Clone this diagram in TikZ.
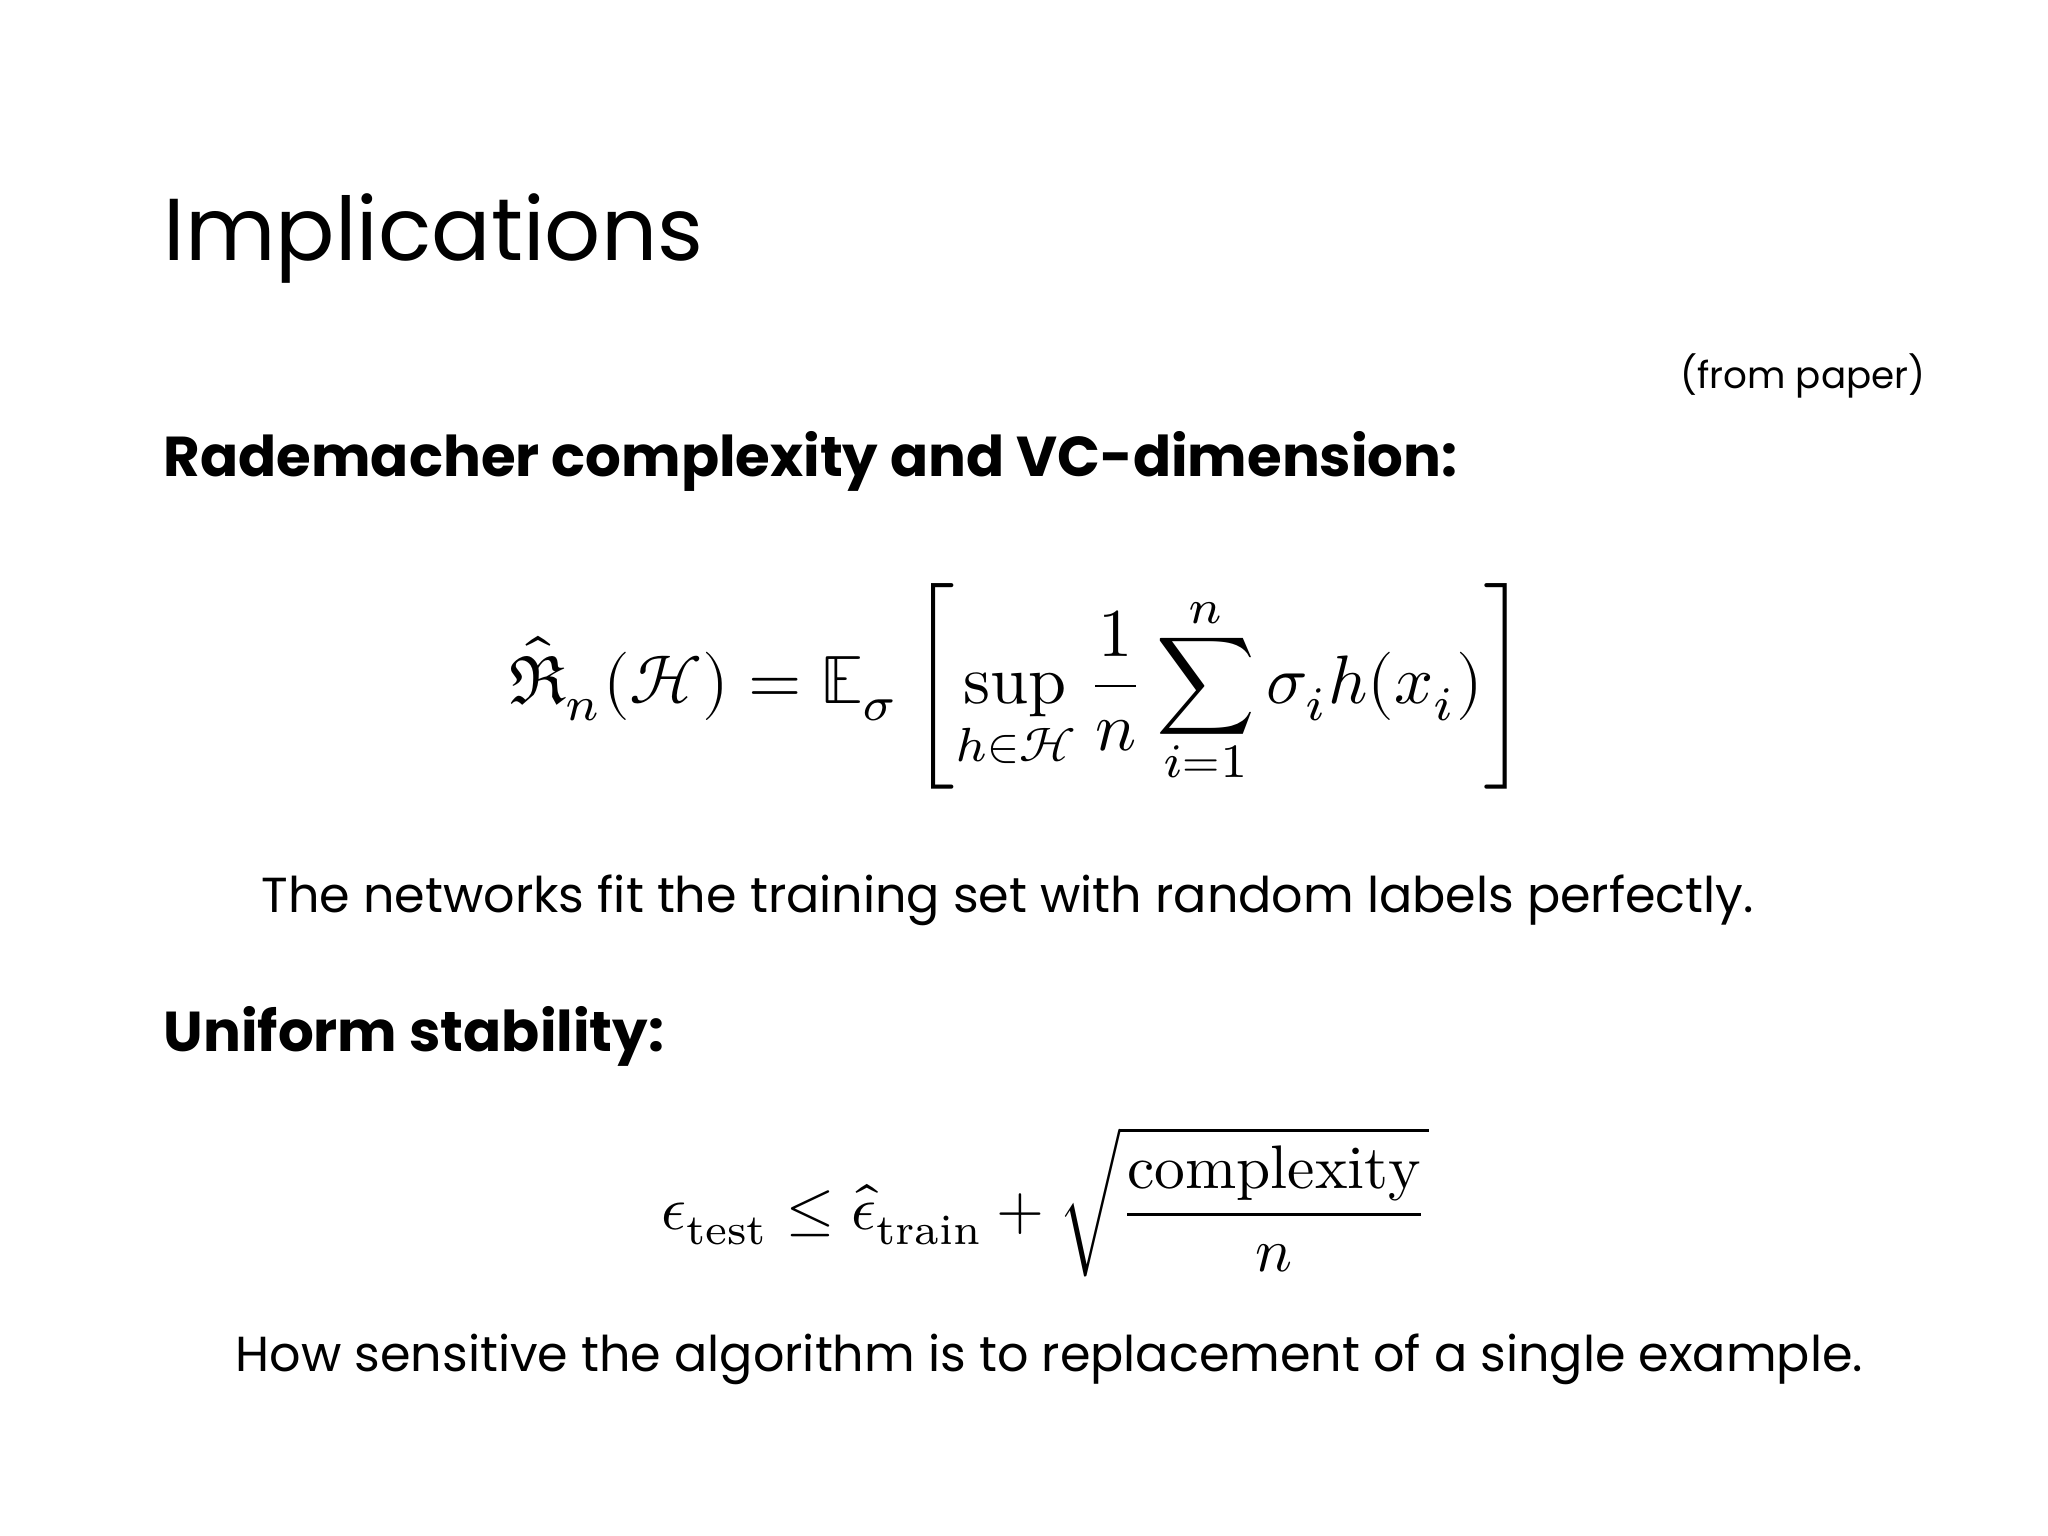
\documentclass[tikz,border=0pt]{standalone}
\usepackage{amsmath,amssymb}
\usepackage{fontspec}
\setmainfont{Poppins}
\usepackage{unicode-math}
\setmathfont{Latin Modern Math}
\setmathrm{Latin Modern Roman}
\begin{document}
\begin{tikzpicture}[x=1cm,y=-1cm]
\useasboundingbox (0,0) rectangle (20.48,15.36);
\tikzset{txt/.style={inner sep=0pt,anchor=base west}}
\node[txt,font=\fontsize{25}{30}\selectfont] (title) at (1.63,2.61) {Implications};
\node[inner sep=0pt,anchor=base east,font=\fontsize{10.6}{13}\selectfont] (src) at (19.26,3.89) {(from paper)};
\node[txt,font=\fontsize{16}{20}\selectfont\bfseries] (h1) at (1.63,4.77) {Rademacher complexity and VC-dimension:};
\node[inner sep=0pt,scale=1.95] (f1) at (10.19,6.86) {$\displaystyle \hat{\mathfrak{R}}_n(\mathcal{H})=\mathbb{E}_\sigma\left[\mathop{\mathrm{sup}}_{h\in\mathcal{H}}\frac{1}{n}\sum_{i=1}^{n}\sigma_i h(x_i)\right]$};
\node[txt,font=\fontsize{14}{18}\selectfont] (t1) at (2.61,9.12) {The networks fit the training set with random labels perfectly.};
\node[txt,font=\fontsize{16}{20}\selectfont\bfseries] (h2) at (1.63,10.51) {Uniform stability:};
\node[inner sep=0pt,scale=1.75] (f2) at (10.45,12.02) {$\displaystyle \epsilon_{\mathrm{test}}\le\hat{\epsilon}_{\mathrm{train}}+\sqrt{\frac{\mathrm{complexity}}{n}}$};
\node[txt,font=\fontsize{14}{18}\selectfont] (t2) at (2.35,13.71) {How sensitive the algorithm is to replacement of a single example.};
\end{tikzpicture}
\end{document}
